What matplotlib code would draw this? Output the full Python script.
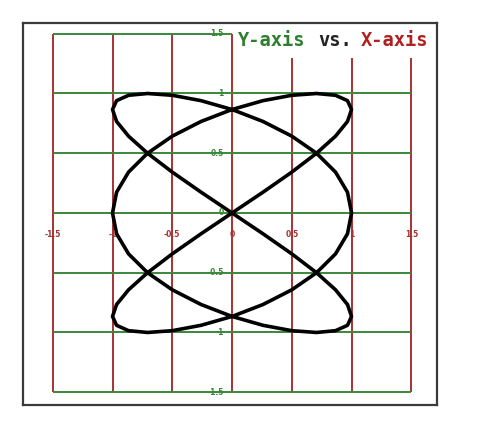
import matplotlib.pyplot as plt

# curve points (one full loop, every 5 degrees of the parameter)
curve_x = [0, .259, .5, .707, .866, .966, 1, .966, .866, .707, .5, .259,
           0, -.259, -.5, -.707, -.866, -.966, -1, -.966, -.866, -.707, -.5, -.259,
           0, .259, .5, .707, .866, .966, 1, .966, .866, .707, .5, .259,
           0, -.259, -.5, -.707, -.866, -.966, -1, -.966, -.866, -.707, -.5, -.259,
           0, .259, .5, .707, .866, .966, 1, .966, .866, .707, .5, .259,
           0, -.259, -.5, -.707, -.866, -.966, -1, -.966, -.866, -.707, -.5, -.259,
           0]
curve_y = [0, .174, .342, .5, .643, .766, .866, .940, .985, 1, .985, .940,
           .866, .766, .643, .5, .342, .174, 0, -.174, -.342, -.5, -.643, -.766,
           -.866, -.940, -.985, -1, -.985, -.940, -.866, -.766, -.643, -.5, -.342, -.174,
           0, .174, .342, .5, .643, .766, .866, .940, .985, 1, .985, .940,
           .866, .766, .643, .5, .342, .174, 0, -.174, -.342, -.5, -.643, -.766,
           -.866, -.940, -.985, -1, -.985, -.940, -.866, -.766, -.643, -.5, -.342, -.174,
           0]

x_ticks = [-1.5, -1, -0.5, 0, 0.5, 1, 1.5]
x_labels = ["-1.5", "-1", "-0.5", "0", "0.5", "1", "1.5"]
y_ticks = [1.5, 1, 0.5, 0, -0.5, -1, -1.5]
y_labels = ["1.5", "1", "0.5", "0", "-0.5", "-1", "-1.5"]

RED = "#a83232"
GREEN = "#3a873a"

fig = plt.figure(figsize=(4.79, 4.23), dpi=100)
ax = fig.add_axes([23 / 479, 18 / 423, 414 / 479, 382 / 423])
ax.set_xlim(-1.749, 1.715)
ax.set_ylim(-1.607, 1.590)
ax.set_xticks([])
ax.set_yticks([])
for s in ax.spines.values():
    s.set_color("#3a3a3a")
    s.set_linewidth(1.6)

# vertical (red) grid, the right ones stop under the title
for xv in x_ticks:
    top = 1.5 if xv <= 0 else 1.30
    ax.vlines(xv, -1.5, top, color=RED, lw=1.4)
# horizontal (green) grid, top one stops at the y axis
for yv in y_ticks:
    right = 0 if yv == 1.5 else 1.5
    ax.hlines(yv, -1.5, right, color=GREEN, lw=1.4)

ax.plot(curve_x, curve_y, color="black", lw=2.6, solid_joinstyle="round",
        solid_capstyle="round")

for xv, lab in zip(x_ticks, x_labels):
    ax.text(xv, -0.18, lab, color=RED, fontsize=5.5, fontweight="bold",
            ha="center", va="center")
for yv, lab in zip(y_ticks, y_labels):
    ax.text(-0.07, yv, lab, color=GREEN, fontsize=5.5, fontweight="bold",
            ha="right", va="center")

# title in three colours
fig.text(238 / 479, 1 - 41 / 423, "Y-axis", color="#2f7d2f",
         fontsize=13.5, fontweight="bold", family="DejaVu Sans Mono", va="center")
fig.text(318 / 479, 1 - 41 / 423, "vs.", color="#222222",
         fontsize=13.5, fontweight="bold", family="DejaVu Sans Mono", va="center")
fig.text(361 / 479, 1 - 41 / 423, "X-axis", color="#b02020",
         fontsize=13.5, fontweight="bold", family="DejaVu Sans Mono", va="center")

fig.savefig("out.png", dpi=100)
